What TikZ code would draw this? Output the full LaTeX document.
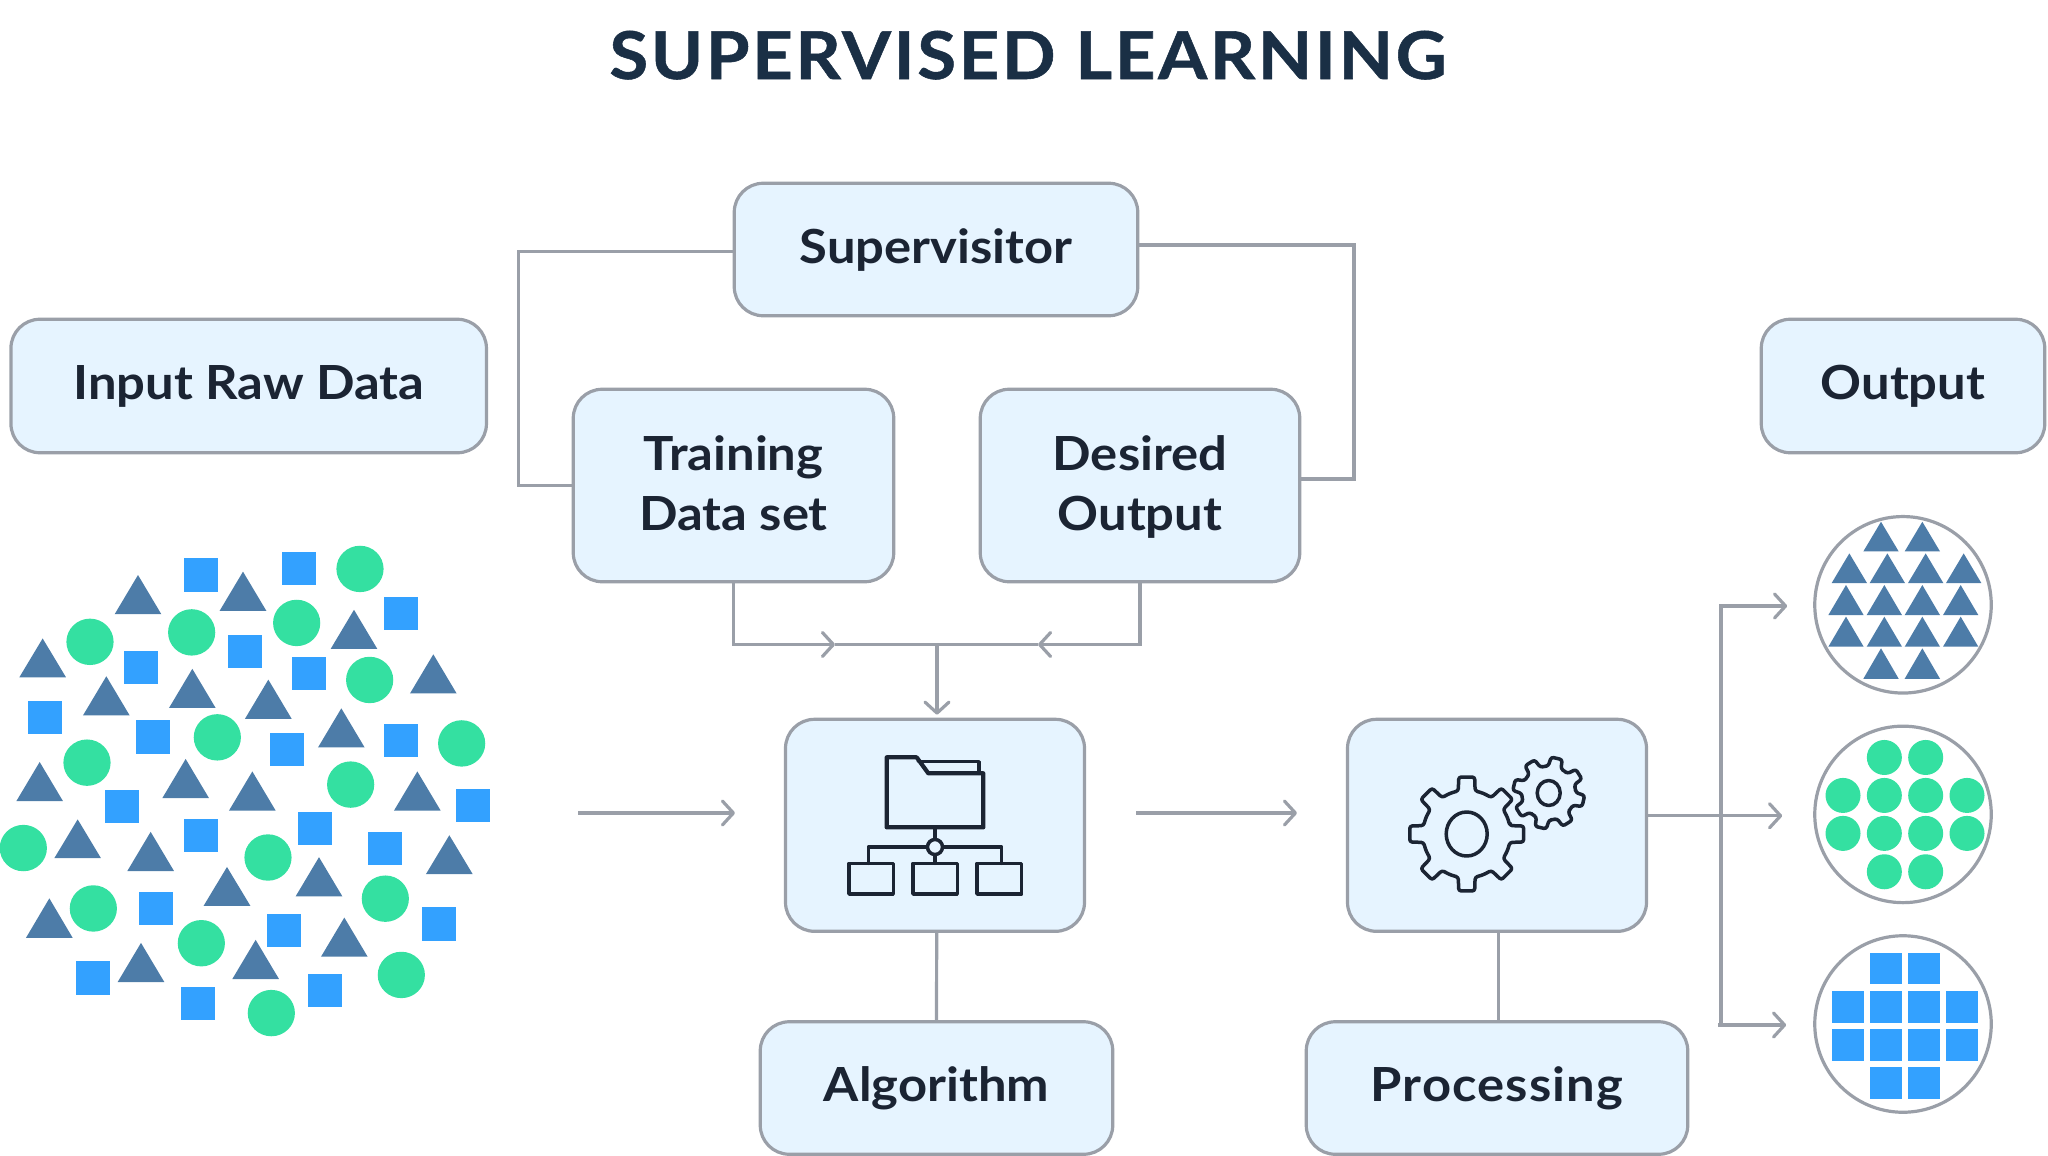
\documentclass[tikz,border=0pt]{standalone}
\usepackage{fontspec}
\setmainfont{Lato}
\newfontfamily\labfont[FakeStretch=1.08]{Lato Bold}
\newfontfamily\titlefont[FakeStretch=1.07,FakeBold=0.8,LetterSpace=4]{Lato Bold}
\usetikzlibrary{arrows.meta,calc}
\definecolor{boxfill}{HTML}{E6F4FF}
\definecolor{boxline}{HTML}{9A9FA8}
\definecolor{ink}{HTML}{1B2433}
\definecolor{titleink}{HTML}{1A2F45}
\definecolor{tri}{HTML}{4D7CA8}
\definecolor{grn}{HTML}{34E0A1}
\definecolor{sqr}{HTML}{33A1FF}
\newcommand{\lowered}[1]{\raisebox{-14.5pt}[0pt][0pt]{#1}}
\tikzset{
  x=1pt,y=-1pt,
  stepbox/.style={draw=boxline,fill=boxfill,line width=3.2pt,rounded corners=29pt,inner sep=0pt,
    font=\labfont\fontsize{47}{60}\selectfont,text=ink,align=center},
  oneline/.style={text height=35pt,text depth=8pt},
  conn/.style={draw=boxline,line width=3.2pt},
  chev/.style={-{Straight Barb[length=11pt,width=24pt,line width=3.2pt,round]}},
  ring/.style={circle,draw=boxline,line width=3.2pt,fill=white,minimum size=176.5pt,inner sep=0pt},
  icon/.style={draw=ink,line width=3.5pt,line join=round,line cap=round},
}
\begin{document}
\begin{tikzpicture}
\useasboundingbox (0,0) rectangle (2048,1156);
\node[anchor=base,text=titleink,font=\titlefont\fontsize{66}{70}\selectfont] (title) at (1028,79) {SUPERVISED LEARNING};

\node[stepbox,oneline,minimum width=403.5pt,minimum height=132.5pt] (sup) at (936,249.5) {Supervisitor};
\node[stepbox,oneline,minimum width=475.5pt,minimum height=133.5pt] (input) at (248.7,386) {Input Raw Data};
\node[stepbox,oneline,minimum width=283.5pt,minimum height=133.5pt] (output) at (1903,386) {Output};
\node[stepbox,minimum width=320.5pt,minimum height=192.5pt] (train) at (733.5,485.5) {\lowered{Training}\\\lowered{Data set}};
\node[stepbox,minimum width=319.5pt,minimum height=192.5pt] (desired) at (1140,485.5) {\lowered{Desired}\\\lowered{Output}};
\node[stepbox,minimum width=299pt,minimum height=212pt] (algo) at (935,825.3) {};
\node[stepbox,minimum width=299pt,minimum height=212pt] (proc) at (1497,825.3) {};
\node[stepbox,oneline,minimum width=352.5pt,minimum height=132.5pt] (algol) at (936.5,1088) {Algorithm};
\node[stepbox,oneline,minimum width=381.5pt,minimum height=132.5pt] (procl) at (1497,1088) {\addfontfeatures{LetterSpace=2.5}Processing};
\node[ring] (c1) at (1903,604.8) {};
\node[ring] (c2) at (1903,814.4) {};
\node[ring] (c3) at (1903,1024) {};

% connectors
\draw[conn] ([yshift=-2pt]sup.west) -| (518.5,485.5) -- (train.west);
\draw[conn] ([yshift=4.5pt]sup.east) -| (1354,479) -- ([yshift=6.5pt]desired.east);
\coordinate (tipL) at (835,644.5);
\coordinate (tipR) at (1038,644.5);
\coordinate (junc) at (937,644.5);
\draw[conn,chev] (train.south) |- (tipL);
\draw[conn,chev] (desired.south) |- (tipR);
\draw[conn] (tipL) -- (tipR);
\draw[conn,chev,shorten >=3pt] (junc) -- ([xshift=2pt]algo.north);
\draw[conn] ([xshift=1.7pt]algo.south) -- (algol.north);
\draw[conn] ([xshift=1.3pt]proc.south) -- ([xshift=1.3pt]procl.north);
\coordinate (inA) at (578,813);
\coordinate (inB) at (735,813);
\coordinate (pA) at (1136,813);
\coordinate (pB) at (1297,813);
\draw[conn,chev] (inA) -- (inB);
\draw[conn,chev] (pA) -- (pB);
\coordinate (pe) at ([yshift=9.5pt]proc.east);
\draw[conn,chev,shorten >=31pt] (pe) -- (pe -| c2.west);
\coordinate (brT) at (1721,606);
\coordinate (brB) at (1721,1025);
\draw[conn,chev,shorten >=26pt] (brB) -- (brT) -- (brT -| c1.west);
\coordinate (brS) at (1718,1025);
\draw[conn,chev,shorten >=27pt] (brS) -- (brS -| c3.west);

% scattered shapes
\begin{scope}[shift={(0,520)},x=0.33333pt,y=-0.3375pt]
\foreach \a/\b in {603/163,898/145,1203/276,422/436,736/389,927/455,136/586,460/643,860/680,1203/652,365/849,1420/845,603/934,946/915,1155/972,469/1150,851/1216,1317/1197,279/1357,593/1432,975/1395}
  \fill[sqr] (\a-51,\b-49) rectangle (\a+51,\b+49);
\foreach \a/\b in {1080/145,270/361,575/333,890/305,1109/474,652/644,1385/662,261/719,1052/784,70/972,804/1000,280/1151,1156/1122,604/1254,1204/1348,814/1461}
  \fill[grn] (\a,\b) ellipse [x radius=23.6pt,y radius=23.2pt];
\foreach \a/\b/\c in {414/163/279,729/153/269,128/351/466,1062/266/382,1300/398/514,319/463/579,577/441/557,805/473/589,1024/558/674,119/717/833,557/708/824,757/745/861,1252/745/861,233/887/1002,452/924/1040,1348/934/1049,681/1028/1143,957/999/1115,148/1121/1238,1033/1178/1294,423/1253/1369,767/1244/1360}
  \fill[tri] (\a,\b) -- (\a-70,\c) -- (\a+70,\c) -- cycle;
\end{scope}

% sorted clusters
\begin{scope}[shift={(1700,500)},x=0.33333pt,y=-0.3955pt]
\foreach \a/\b/\c in {543/55/130,667/55/130,448/135/210,562/135/210,677/135/210,791/135/210,438/215/291,553/215/291,667/215/291,782/215/291,438/295/371,553/295/371,667/295/371,782/295/371,543/375/452,667/375/452}
  \fill[tri] (\a,\b) -- (\a-53,\c) -- (\a+53,\c) -- cycle;
\foreach \a/\b in {553/651,677/651,429/747,553/747,677/747,801/747,429/843,553/843,677/843,801/843,553/940,677/940}
  \fill[grn] (\a,\b) ellipse [x radius=17.5pt,y radius=17.5pt];
\foreach \a/\b in {510/1145,625/1145,396/1242,510/1242,625/1242,739/1242,396/1338,510/1338,625/1338,739/1338,510/1434,625/1434}
  \fill[sqr] (\a,\b) rectangle (\a+96,\b+80);
\end{scope}

% folder icon
\begin{scope}[shift={(780,700)},x=0.33333pt,y=-0.33333pt]
\draw[icon,line width=4.2pt] (320,172) -- (410,172) -- (445,220) -- (610,220) -- (610,382) -- (320,382) -- cycle;
\draw[icon] (415,185) -- (597,185) -- (597,220);
\draw[icon] (465,382) -- (465,490);
\draw[icon] (265,490) -- (265,441) -- (665,441) -- (665,490);
\draw[icon,fill=boxfill] (465,441) circle [radius=7.5pt];
\draw[icon] (207,490) rectangle (340,582);
\draw[icon] (399,490) rectangle (532,582);
\draw[icon] (591,490) rectangle (725,582);
\end{scope}

% gears
\foreach \cx/\cy/\gRoot/\gTip/\gOff/\gHt/\gHr/\hx/\hy in {1466.7/834/44/57.5/0/8/11/20.5/22,1548.7/793/27/36/13/9/14/11.5/12.5}{
  \draw[icon,rounded corners=2.5pt]
    ($(\cx,\cy)+(\gOff-\gHr:\gRoot)$)
    \foreach \k in {0,...,7}{
      -- ($(\cx,\cy)+(\gOff+\k*45-\gHt:\gTip)$)
      -- ($(\cx,\cy)+(\gOff+\k*45+\gHt:\gTip)$)
      -- ($(\cx,\cy)+(\gOff+\k*45+\gHr:\gRoot)$)
      -- ($(\cx,\cy)+(\gOff+\k*45+22.5:\gRoot)$)
      -- ($(\cx,\cy)+(\gOff+\k*45+45-\gHr:\gRoot)$)
    } -- cycle;
  \draw[icon] (\cx,\cy) ellipse [x radius=\hx pt,y radius=\hy pt];
}
\end{tikzpicture}
\end{document}
